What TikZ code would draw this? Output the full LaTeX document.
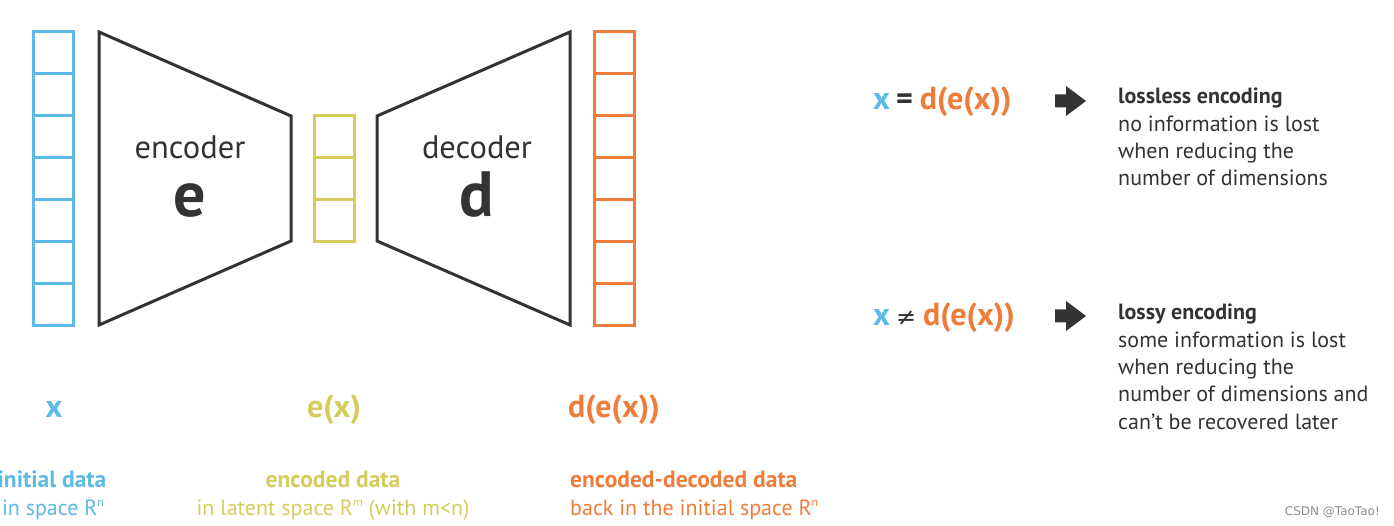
\documentclass[tikz,border=0pt]{standalone}
\usepackage{fontspec}
\setmainfont{PT Sans}
\newfontfamily\symf{DejaVu Sans}
\definecolor{cblue}{HTML}{5DB9E6}
\definecolor{cyel}{HTML}{D5CC5C}
\definecolor{corg}{HTML}{EE7D3B}
\definecolor{cdark}{HTML}{333333}
\newcommand{\supx}[1]{\raisebox{0.75ex}{\fontsize{12}{12}\selectfont #1}}
\tikzset{
  cell/.style={draw, line width=3pt, minimum width=40pt, minimum height=39pt, inner sep=0pt},
  trap/.style={draw=cdark, line width=3pt, line join=miter},
  lbl/.style={inner sep=0pt, anchor=base},
  big/.style={font=\fontsize{32}{34}\selectfont\bfseries},
  captxt/.style={font=\fontsize{22}{27.3}\selectfont},
  captb/.style={font=\fontsize{23.5}{27.3}\selectfont\bfseries},
  blk/.pic={\fill[cdark] (-14,-6.5) -- (-3,-6.5) -- (-3,-15) -- (17,0) -- (-3,15) -- (-3,6.5) -- (-14,6.5) -- cycle;},
}
\begin{document}
\begin{tikzpicture}[x=1pt,y=-1pt]
\useasboundingbox (0,0) rectangle (1394,526);
% input column
\foreach \i in {0,...,6}{
  \node[cell, draw=cblue, minimum height=41.9pt] (in\i) at (53.75,{32+41.9*\i+20.95}) {};
}
% latent column
\foreach \i in {0,1,2}{
  \node[cell, draw=cyel, minimum height=42pt] (lat\i) at (334,{116+42*\i+21}) {};
}
% output column
\foreach \i in {0,...,6}{
  \node[cell, draw=corg, minimum height=41.9pt] (out\i) at (614,{32+41.9*\i+20.95}) {};
}
% encoder / decoder
\draw[trap] (99,32) -- (291,116) -- (291,241) -- (99,325) -- cycle;
\draw[trap] (377,116) -- (570,32) -- (570,325) -- (377,241) -- cycle;
\node[lbl, text=cdark, font=\fontsize{32.5}{34}\selectfont] (enc) at (190,159) {encoder};
\node[lbl, text=cdark, font=\fontsize{64}{64}\selectfont\bfseries] (e) at (190,217) {e};
\node[lbl, text=cdark, font=\fontsize{32.5}{34}\selectfont] (dec) at (477,159) {decoder};
\node[lbl, text=cdark, font=\fontsize{64}{64}\selectfont\bfseries] (d) at (477,217) {d};
% bottom labels
\node[lbl, big, text=cblue] (xl) at (54,417) {x};
\node[lbl, big, text=cyel] (exl) at (334,417) {e(x)};
\node[lbl, big, text=corg] (dexl) at (614,417) {d(e(x))};
\node[lbl, captb, text=cblue] (ina) at (52,487) {initial data};
\node[lbl, captxt, text=cblue] (inb) at (53,515) {in space R\supx{n}};
\node[lbl, captb, text=cyel] (lata) at (333,487) {encoded data};
\node[lbl, captxt, text=cyel] (latb) at (333,515) {in latent space R\supx{m} (with m<n)};
\node[lbl, captb, text=corg, anchor=base west] (outa) at (570,487) {encoded-decoded data};
\node[lbl, captxt, text=corg, anchor=base west] (outb) at (570,515) {back in the initial space R\supx{n}};
% lossless
\node[lbl, big, anchor=base west] (eq1) at (873,110) {\textcolor{cblue}{x}\hspace{6pt}\textcolor{cdark}{=}\hspace{7pt}\textcolor{corg}{d(e(x))}};
\coordinate (ar1) at (1069,101);
\pic at (ar1) {blk};
\node[captxt, text=cdark, anchor=north west, align=left, inner sep=0pt] (t1) at (1118,88)
  {\textbf{lossless encoding}\\no information is lost\\when reducing the\\number of dimensions};
% lossy
\node[lbl, big, anchor=base west] (eq2) at (873,326) {\textcolor{cblue}{x}\hspace{6pt}\textcolor{cdark}{\normalfont\fontsize{24}{30}\selectfont\symf ≠}\hspace{7pt}\textcolor{corg}{d(e(x))}};
\coordinate (ar2) at (1069,316);
\pic at (ar2) {blk};
\node[captxt, text=cdark, anchor=north west, align=left, inner sep=0pt] (t2) at (1118,304)
  {\textbf{lossy encoding}\\some information is lost\\when reducing the\\number of dimensions and\\can’t be recovered later};
% watermark
\node[lbl, anchor=base east, text=black!45, font=\fontsize{12}{14}\selectfont\symf] (wm) at (1380,515) {CSDN @TaoTao!};
\end{tikzpicture}
\end{document}
